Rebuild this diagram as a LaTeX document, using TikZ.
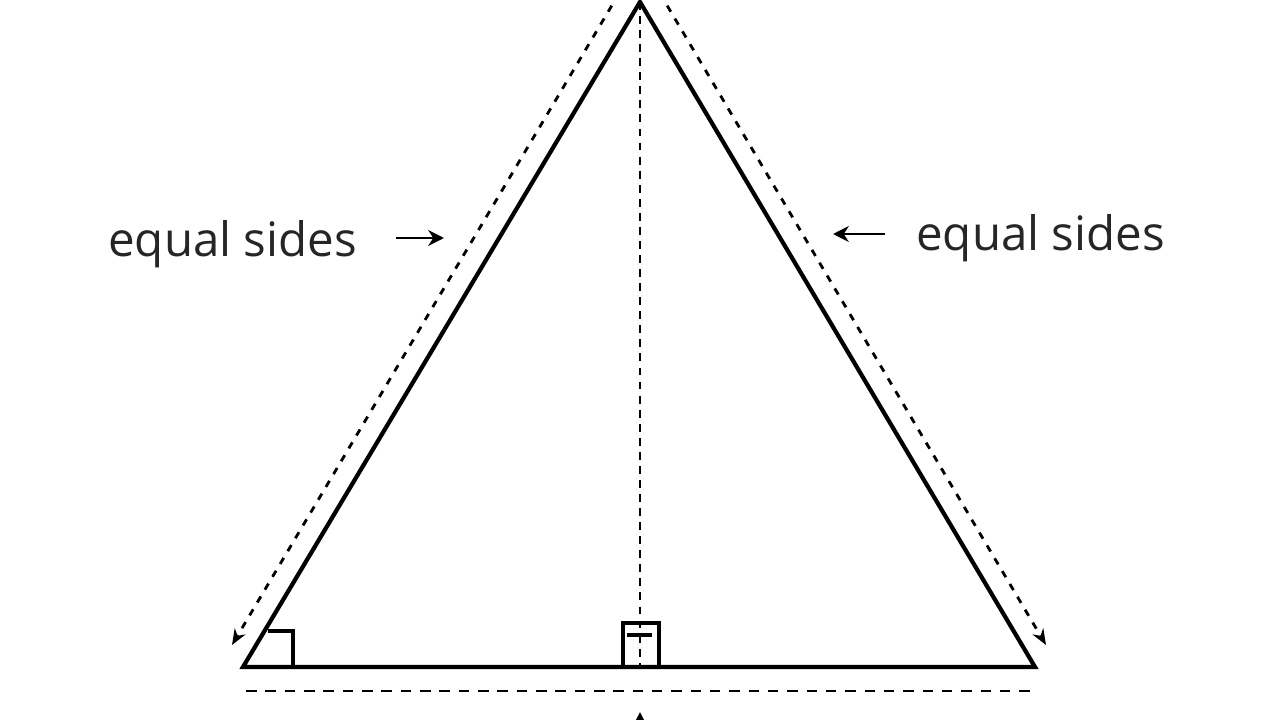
\documentclass[tikz,border=0pt]{standalone}
\usepackage{fontspec}
\setmainfont{Open Sans}
\usetikzlibrary{arrows.meta}
\begin{document}
\begin{tikzpicture}
    [x=0.2mm, y=-0.2mm,
      side/.style={line width=2.4pt, line join=miter},
      guide/.style={line width=1.6pt, dash pattern=on 4pt off 4.5pt},
      heightdash/.style={line width=1.6pt, dash pattern=on 4.5pt off 3.5pt},
      basedash/.style={line width=1.6pt, dash pattern=on 6pt off 5pt},
      anglemark/.style={line width=2pt},
      pointer/.style={line width=1.5pt, -{Stealth[length=9pt, width=9pt]}},
      sidetext/.style={font=\fontsize{27}{31}\selectfont, text=black!85, inner sep=0pt},
     ]
    \useasboundingbox (0,0) rectangle (1280,720);
    % triangle corners
    \coordinate (apex) at (640,2);
    \coordinate (left) at (243,667);
    \coordinate (right) at (1035,667);
    \coordinate (foot) at (640,667);
    \draw[side] (left) -- (apex) -- (right) -- cycle;
    % height
    \draw[heightdash] (apex) -- (foot);
    % right angle marks
    \draw[anglemark] (268,631) -- (293,631) -- (293,667);
    \draw[anglemark] (623,667) rectangle (659,623);
    \draw[anglemark] (627,635) -- (652,635);
    % dashed guides beside the equal sides
    \coordinate (lefttop) at (627,-20);
    \coordinate (leftend) at (232,645);
    \coordinate (righttop) at (652,-20);
    \coordinate (rightend) at (1046,645);
    \draw[guide, -{Stealth[length=9pt, width=7pt]}] (lefttop) -- (leftend);
    \draw[guide, -{Stealth[length=9pt, width=7pt]}] (righttop) -- (rightend);
    % dashed line under the base
    \coordinate (baseleft) at (246,691);
    \coordinate (baseright) at (1035,691);
    \draw[basedash] (baseleft) -- (baseright);
    \coordinate (below) at (640,760);
    \coordinate (basetip) at (640,712);
    \draw[line width=1.6pt, -{Stealth[length=11pt, width=11pt]}] (below) -- (basetip);
    % labels
    \node[sidetext, anchor=west] (leftlabel) at (108,244) {equal sides};
    \node[sidetext, anchor=west] (rightlabel) at (916,238) {equal sides};
    \coordinate (leftfrom) at (396,238);
    \coordinate (leftto) at (444,238);
    \coordinate (rightfrom) at (885,234);
    \coordinate (rightto) at (833,234);
    \draw[pointer] (leftfrom) -- (leftto);
    \draw[pointer] (rightfrom) -- (rightto);
\end{tikzpicture}
\end{document}
